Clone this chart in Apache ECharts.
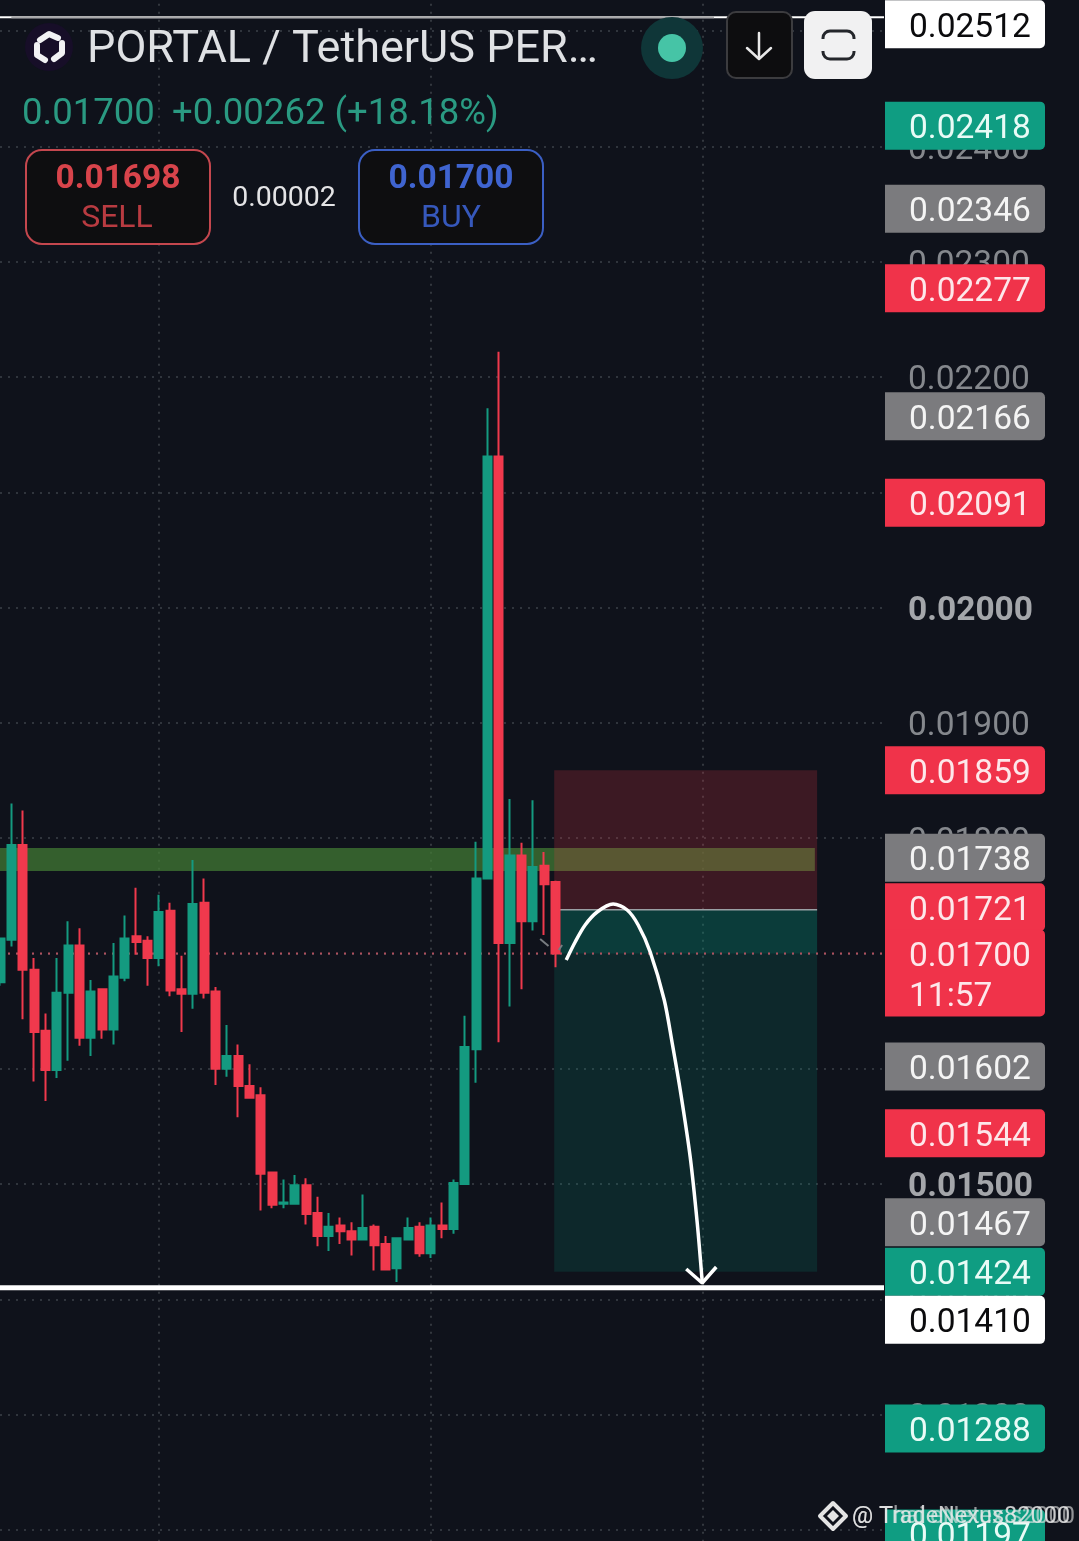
<!DOCTYPE html>
<html><head><meta charset="utf-8">
<style>html,body{margin:0;padding:0;background:#0f121b}#c{width:1079px;height:1541px}</style>
<script src="https://cdn.jsdelivr.net/npm/echarts@6/dist/echarts.min.js"></script>
</head><body><div id="c"></div>
<script>
// ---- data ----
const openPrice  = [0.01675,0.01712,0.01794,0.01686,0.01633,0.01599,0.01666,0.01707,0.01627,0.01669,0.01634,0.01679,0.01715,0.01711,0.01696,0.01737,0.01669,0.01665,0.01744,0.01667,0.01600,0.01611,0.01585,0.01577,0.01510,0.01483,0.01483,0.01499,0.01475,0.01455,0.01464,0.01459,0.01452,0.01463,0.01448,0.01427,0.01452,0.01463,0.01440,0.01464,0.01461,0.01500,0.01617,0.01765,0.02131,0.01709,0.01785,0.01728,0.01776,0.01762];
const closePrice = [0.01713,0.01794,0.01686,0.01632,0.01599,0.01666,0.01707,0.01627,0.01667,0.01634,0.01680,0.01713,0.01710,0.01696,0.01736,0.01668,0.01665,0.01743,0.01666,0.01600,0.01611,0.01585,0.01575,0.01509,0.01482,0.01484,0.01499,0.01474,0.01455,0.01463,0.01459,0.01452,0.01462,0.01447,0.01426,0.01453,0.01462,0.01440,0.01464,0.01461,0.01501,0.01619,0.01765,0.02131,0.01709,0.01785,0.01728,0.01775,0.01760,0.01700];
const lowPrice   = [0.01672,0.01706,0.01643,0.01589,0.01572,0.01592,0.01607,0.01620,0.01611,0.01626,0.01621,0.01676,0.01699,0.01672,0.01689,0.01663,0.01632,0.01652,0.01661,0.01586,0.01593,0.01558,0.01574,0.01477,0.01479,0.01479,0.01483,0.01465,0.01446,0.01442,0.01448,0.01438,0.01451,0.01425,0.01425,0.01415,0.01451,0.01437,0.01436,0.01453,0.01457,0.01500,0.01588,0.01765,0.01623,0.01654,0.01669,0.01720,0.01716,0.01688];
const highPrice  = [0.01713,0.01830,0.01824,0.01696,0.01648,0.01696,0.01728,0.01722,0.01677,0.01669,0.01709,0.01733,0.01757,0.01715,0.01751,0.01744,0.01698,0.01781,0.01765,0.01671,0.01638,0.01621,0.01604,0.01584,0.01510,0.01504,0.01508,0.01505,0.01489,0.01475,0.01471,0.01467,0.01491,0.01465,0.01455,0.01453,0.01471,0.01467,0.01471,0.01484,0.01504,0.01646,0.01797,0.02173,0.02222,0.01834,0.01796,0.01833,0.01788,0.01763];
const categories = openPrice.concat(new Array(29).fill(null)).map((_, i) => 'c' + i);

const tagPrices = [0.02512,0.02418,0.02346,0.02277,0.02166,0.02091,0.01859,0.01738,0.01721,0.01700,0.01602,0.01544,0.01467,0.01424,0.01410,0.01288,0.01197];
const tagKinds  = ['white','green','grey','red','grey','red','red','grey','red','red','grey','red','grey','green','white','green','green'];
const countdown = '11:57';
const lastPrice = 0.01700;

const stopLevel = 0.01859, entryLevel = 0.01738, targetLevel = 0.01424;
const zoneHigh = 0.017915, zoneLow = 0.017716;
const supportLevel = 0.01410, topLevel = 0.02512;

const arcX = [49.96,50.75,51.63,52.69,54.10,55.34,56.31,57.37,58.61,59.31,60.02,60.90,61.52,61.96];
const arcY = [0.016944,0.017100,0.017247,0.017360,0.017429,0.017377,0.017247,0.017013,0.016597,0.016224,0.015816,0.015235,0.014663,0.014151];
const arrowX = [60.55,61.96,63.2];
const arrowY = [0.014264,0.014142,0.014281];
const hintAX = [47.66,48.4], hintAY = [0.017125,0.017065];
const hintBX = [49.6,49.3],  hintBY = [0.017074,0.017030];

// ---- layout and styles ----
const BG='#0f121b', UP='#149a80', DOWN='#f0394d';
const FONT='Roboto, sans-serif';
const tagShift = {0.02512:7, 0.01738:-52, 0.01721:-22, 0.01410:32};
const tagFill = {white:'#ffffff', green:'#0f9d82', grey:'#7b7b7e', red:'#f0334a'};
const tagText = {white:'#0b0b0d', green:'#e8fbf6', grey:'#f4f4f4', red:'#fde7ea'};
const xMax = categories.length - 1;
const boxStart = 48.9, boxEnd = 72.1, zoneEnd = 71.9, entryLineStart = 49.4;

function pair(xs, ys){ return xs.map((x,i)=>[x,ys[i]]); }
function flatLine(name, a, b, price, color, width, z, dash){
  return {type:'line', name, xAxisIndex:1, z, silent:true, showSymbol:false, symbol:'none', clip:false,
    data:[[a,price],[b,price]], lineStyle:{color, width, type:dash||'solid'}};
}
function rectSeries(name, z, x0, x1, hi, lo, fill){
  return {type:'custom', name, xAxisIndex:1, z, silent:true, data:[[x0,hi,x1,lo]],
    renderItem:(p,api)=>{
      const a=api.coord([api.value(0),api.value(1)]), b=api.coord([api.value(2),api.value(3)]);
      return {type:'rect', shape:{x:a[0],y:a[1],width:b[0]-a[0],height:b[1]-a[1]}, style:{fill}};
    }};
}

const tagSeries = {
  type:'custom', name:'priceTags', xAxisIndex:1, z:20, silent:true,
  data: tagPrices.map(p=>[0,p]),
  renderItem:(params,api)=>{
    const i=params.dataIndex, p=tagPrices[i], kind=tagKinds[i];
    const cy=api.coord([0,p])[1]+(tagShift[p]||0);
    const left=params.coordSys.x+params.coordSys.width+1;
    const isLast=p===lastPrice;
    const top=cy-24, h=isLast?87:48;
    const kids=[
      {type:'rect',shape:{x:left,y:top,width:160,height:h,r:[0,5,5,0]},style:{fill:tagFill[kind]}},
      {type:'text',style:{text:p.toFixed(5),x:left+24,y:cy+4,fill:tagText[kind],font:'33.5px '+FONT,textVerticalAlign:'middle'}}
    ];
    if(isLast) kids.push({type:'text',style:{text:countdown,x:left+24,y:cy+44,fill:tagText[kind],font:'33.5px '+FONT,textVerticalAlign:'middle'}});
    return {type:'group',children:kids};
  }
};

function T(text,x,y,fill,font,align){
  return {type:'text',z:100,silent:true,style:{text,x,y,fill,font:font+' '+FONT,textAlign:align||'left',textVerticalAlign:'middle'}};
}
function Box(x,y,w,h,r,fill,stroke,lw){
  return {type:'rect',z:100,silent:true,shape:{x,y,width:w,height:h,r},style:{fill,stroke:stroke||null,lineWidth:lw||0}};
}
function Pl(points,stroke,lw,z){
  return {type:'polyline',z:z||101,silent:true,shape:{points},style:{fill:null,stroke,lineWidth:lw,lineCap:'round',lineJoin:'round'}};
}
const graphics=[
  {type:'circle',z:100,silent:true,shape:{cx:49,cy:47,r:24},style:{fill:'#170e28'}},
  Pl([[40,40],[49,34],[58,38]],'#f2f2f4',6),
  Pl([[62,43],[62,53],[54,59]],'#f2f2f4',6),
  Pl([[45,60],[37,55],[37,45]],'#f2f2f4',6),
  T('0.01700',22,115,'#2a9a82','36.5px'),
  T('+0.00262 (+18.18%)',172,115,'#2a9a82','36.5px'),
  Box(26,150,184,94,16,'#0e0e10','#c4474e',2),
  T('0.01698',118,180,'#d8444b','bold 33.5px','center'),
  T('SELL',117,219,'#b83b41','32px','center'),
  T('0.00002',284,199,'#e4e4e6','28.5px','center'),
  Box(359,150,184,94,16,'#0e0e10','#3b5fc4',2),
  T('0.01700',451,180,'#3f64d0','bold 33.5px','center'),
  T('BUY',451,219,'#3658bb','32px','center'),
  {type:'circle',z:100,silent:true,shape:{cx:672,cy:48,r:31},style:{fill:'#0f3638'}},
  {type:'circle',z:101,silent:true,shape:{cx:672,cy:48,r:14},style:{fill:'#46c4a6'}},
  Box(727,12,65,66,9,'#0d0d0f','#3c3c3f',2),
  Pl([[759,33],[759,58]],'#e8e8e8',2.5),
  Pl([[747,48],[759,59],[771,48]],'#e8e8e8',2.5),
  Box(804,11,68,68,11,'#f1f1f2'),
  {type:'rect',z:101,silent:true,shape:{x:823,y:31,width:31,height:28,r:7},style:{fill:null,stroke:'#24262b',lineWidth:3}},
  {type:'rect',z:102,silent:true,shape:{x:819,y:39,width:39,height:12},style:{fill:'#f1f1f2'}},
  Pl([[833,1503],[846,1516],[833,1529],[820,1516],[833,1503]],'#e4e4e4',4),
  {type:'polygon',z:102,silent:true,shape:{points:[[833,1510],[839,1516],[833,1522],[827,1516]]},style:{fill:'#e4e4e4'}},
  T('@ TradeNexus82000',852,1517,'rgba(235,235,235,0.85)','23.5px'),
  T('@ Thai eNetex.s2000',852,1517,'rgba(235,235,235,0.6)','23.5px')
];

const option={
  animation:false,
  backgroundColor:BG,
  title:{text:'PORTAL / TetherUS PER…',left:87,top:25,padding:0,z:100,textStyle:{color:'#dfe1e4',fontFamily:FONT,fontSize:45,fontWeight:400,lineHeight:52}},
  grid:{left:0,right:195,top:-84.2,bottom:-104.3,outerBoundsMode:'none',containLabel:false},
  xAxis:[
    {type:'category',data:categories,boundaryGap:false,axisLine:{show:false},axisTick:{show:false},axisLabel:{show:false},
     splitLine:{show:true,interval:i=>i%24===14,lineStyle:{color:'#3d4249',width:1.6,type:[2,6]}}},
    {type:'value',min:0,max:xMax,show:false,splitLine:{show:false},position:'top'}
  ],
  yAxis:{type:'value',position:'right',min:0.011,max:0.026,interval:0.001,axisLine:{show:false},axisTick:{show:false},
    splitLine:{show:true,lineStyle:{color:'#3d4249',width:1.6,type:[2,6]}},
    axisLabel:{margin:24,align:'left',padding:[8,0,0,0],fontFamily:FONT,fontSize:33.5,color:'#85888d',
      formatter:v=>{const s=v.toFixed(5);return (s==='0.02000'||s==='0.01500')?'{b|'+s+'}':s;},
      rich:{b:{fontFamily:FONT,fontSize:33.5,fontWeight:'bold',color:'#a4a6aa'}}}},
  graphic:{elements:graphics},
  series:[
    rectSeries('zone',1,0,zoneEnd,zoneHigh,zoneLow,'rgba(66,125,52,0.72)'),
    rectSeries('riskBox',1.2,boxStart,boxEnd,stopLevel,entryLevel,'rgba(242,54,69,0.2)'),
    rectSeries('rewardBox',1.2,boxStart,boxEnd,entryLevel,targetLevel,'rgba(8,153,129,0.16)'),
    rectSeries('openProfit',1.3,boxStart,boxEnd,entryLevel,lastPrice,'rgba(8,153,129,0.18)'),
    flatLine('entry',entryLineStart,boxEnd,entryLevel,'#9aa0a4',1.5,1.4),
    flatLine('last',0,xMax,lastPrice,'#b0505e',1.8,1.5,[2,6]),
    {type:'candlestick',name:'PORTAL',z:3,silent:true,clip:false,barWidth:8.5,
     itemStyle:{color:UP,color0:DOWN,borderColor:UP,borderColor0:DOWN,borderWidth:2},
     data:openPrice.map((o,i)=>[o,closePrice[i],lowPrice[i],highPrice[i]])},
    flatLine('support',0,xMax,supportLevel,'#ffffff',5,4),
    flatLine('topWhite',0,xMax,topLevel,'#ffffff',2,4),
    flatLine('topGrey',1,63,topLevel,'#a8a8aa',2,4.1),
    {type:'line',name:'path',xAxisIndex:1,z:5,silent:true,symbol:'none',showSymbol:false,smooth:0.3,clip:false,
     data:pair(arcX,arcY),lineStyle:{color:'#ffffff',width:3.5}},
    {type:'line',name:'arrow',xAxisIndex:1,z:5,silent:true,symbol:'none',showSymbol:false,clip:false,
     data:pair(arrowX,arrowY),lineStyle:{color:'#ffffff',width:3.5}},
    {type:'line',name:'hintA',xAxisIndex:1,z:4,silent:true,symbol:'none',showSymbol:false,clip:false,
     data:pair(hintAX,hintAY),lineStyle:{color:'#787c80',width:2}},
    {type:'line',name:'hintB',xAxisIndex:1,z:4,silent:true,symbol:'none',showSymbol:false,clip:false,
     data:pair(hintBX,hintBY),lineStyle:{color:'#787c80',width:2}},
    tagSeries
  ]
};
echarts.init(document.getElementById('c')).setOption(option);
</script></body></html>
